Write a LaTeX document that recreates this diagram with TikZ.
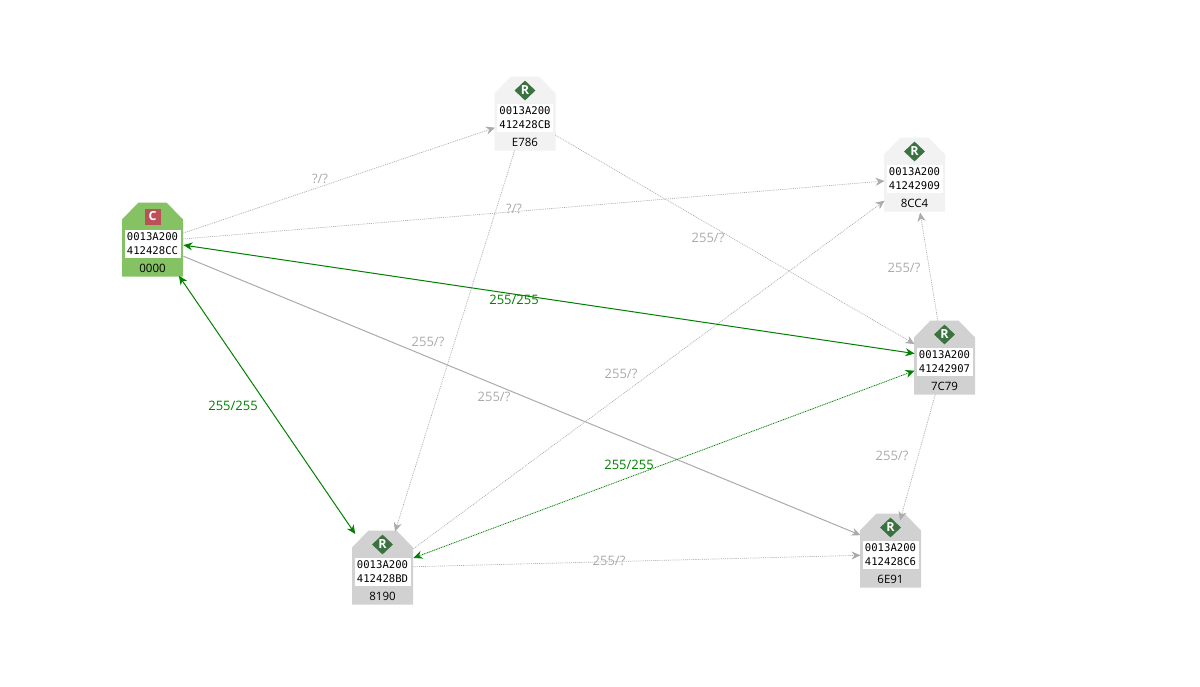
\documentclass[tikz,border=0pt]{standalone}
\usepackage{fontspec}
\setmainfont{Open Sans}
\newfontfamily\addrfont{DejaVu Sans Mono}
\usetikzlibrary{arrows.meta,shapes.geometric}
\definecolor{coordgreen}{HTML}{85C263}
\definecolor{paleR}{HTML}{F2F2F2}
\definecolor{midR}{HTML}{D1D1D1}
\definecolor{dkgreen}{HTML}{3B7340}
\definecolor{cred}{HTML}{BC4F58}
\definecolor{edgegray}{HTML}{ABABAB}
\definecolor{linkgreen}{HTML}{008000}
\tikzset{
  x=1pt,y=-1pt,
  addr/.style={fill=white,inner sep=0pt,minimum width=56pt,minimum height=28pt,align=center,
    font=\addrfont\fontsize{10.6}{14}\selectfont,text=black},
  idlabel/.style={inner sep=0pt,font=\fontsize{11.5}{14}\selectfont,text=black},
  ricon/.style={diamond,aspect=1,fill=dkgreen,inner sep=0pt,minimum width=21pt,minimum height=20pt,
    text=white,font=\bfseries\fontsize{12.5}{12}\selectfont},
  cicon/.style={rectangle,fill=cred,inner sep=0pt,minimum size=16pt,
    text=white,font=\bfseries\fontsize{12.5}{12}\selectfont},
  graylink/.style={draw=edgegray,line width=.7pt,dash pattern=on .9pt off 1pt,-{Stealth[length=9pt,width=8pt,fill=edgegray]}},
  graysolid/.style={draw=edgegray,line width=1pt,-{Stealth[length=9pt,width=8pt,fill=edgegray]}},
  greenlink/.style={draw=linkgreen,line width=1pt,{Stealth[length=9pt,width=8pt]}-{Stealth[length=9pt,width=8pt]}},
  greendot/.style={draw=linkgreen,line width=.8pt,dash pattern=on 1pt off .8pt,{Stealth[length=9pt,width=8pt]}-{Stealth[length=9pt,width=8pt]}},
  graylabel/.style={inner sep=0pt,text=edgegray,font=\fontsize{13}{14}\selectfont},
  greenlabel/.style={inner sep=0pt,text=linkgreen,font=\fontsize{13}{14}\selectfont},
}
% name, x, y (address box centre), fill, icon style, icon letter, line1, line2, id
\newcommand{\meshnode}[9]{%
  \fill[#4] (#2-30.5,#3+33.5) -- (#2-30.5,#3-23.5) -- (#2-14,#3-40.5) -- (#2+14,#3-40.5) -- (#2+30.5,#3-23.5) -- (#2+30.5,#3+33.5) -- cycle;
  \node[addr] (#1) at (#2,#3+.5) {#7\\#8};
  \node[#5] (#1-icon) at (#2,#3-26.5) {#6};
  \node[idlabel] (#1-id) at (#2,#3+25.5) {#9};
}
\begin{document}
\begin{tikzpicture}
\useasboundingbox (0,0) rectangle (1200,686);
\fill[white] (0,0) rectangle (1200,686);
\meshnode{c}{152.5}{243}{coordgreen}{cicon}{C}{0013A200}{412428CC}{0000}
\meshnode{e}{525}{117}{paleR}{ricon}{R}{0013A200}{412428CB}{E786}
\meshnode{f}{914.5}{178}{paleR}{ricon}{R}{0013A200}{41242909}{8CC4}
\meshnode{g}{944.5}{361}{midR}{ricon}{R}{0013A200}{41242907}{7C79}
\meshnode{h}{890.5}{554}{midR}{ricon}{R}{0013A200}{412428C6}{6E91}
\meshnode{b}{382.5}{571}{midR}{ricon}{R}{0013A200}{412428BD}{8190}

\draw[graylink,shorten <=32.7pt,shorten >=31.7pt] (c.center) -- (e.center);
\draw[graylink,shorten <=31.1pt,shorten >=30.1pt] ([yshift=2pt]c.center) -- (f.center);
\draw[graysolid,shorten <=33.5pt,shorten >=32.4pt] (c.center) -- ([yshift=7pt]h.center);
\draw[graylink,shorten <=34.7pt,shorten >=34.7pt] (e.center) -- (g.center);
\draw[graylink,shorten <=34.6pt,shorten >=41.9pt] (e.center) -- (b.center);
\draw[graylink,shorten <=38.5pt,shorten >=37.3pt] (b.center) -- (f.center);
\draw[graylink,shorten <=31pt,shorten >=30pt] ([yshift=4pt]b.center) -- (h.center);
\draw[graylink,shorten <=41.5pt,shorten >=34.5pt] (g.center) -- (f.center);
\draw[graylink,shorten <=34.4pt,shorten >=35.4pt] (g.center) -- (h.center);
\draw[greenlink,shorten <=31.3pt,shorten >=30.3pt] ([yshift=3pt]c.center) -- ([yshift=3.5pt]g.center);
\draw[greenlink,shorten <=41.5pt,shorten >=43pt] ([xshift=3pt,yshift=2pt]c.center) -- ([xshift=-3pt,yshift=2pt]b.center);
\draw[greendot,shorten <=33pt,shorten >=32pt] ([yshift=2pt]b.center) -- ([yshift=2pt]g.center);

\node[graylabel] (l1) at (320,179) {?/?};
\node[graylabel] (l2) at (514,209) {?/?};
\node[graylabel] (l3) at (708,238) {255/?};
\node[graylabel] (l4) at (904,268) {255/?};
\node[greenlabel] (l5) at (514,300) {255/255};
\node[graylabel] (l6) at (428,342) {255/?};
\node[greenlabel] (l7) at (233,406) {255/255};
\node[graylabel] (l8) at (621,374) {255/?};
\node[graylabel] (l9) at (494,397) {255/?};
\node[greenlabel] (l10) at (629,465) {255/255};
\node[graylabel] (l11) at (892,456) {255/?};
\node[graylabel] (l12) at (609,561) {255/?};
\end{tikzpicture}
\end{document}
